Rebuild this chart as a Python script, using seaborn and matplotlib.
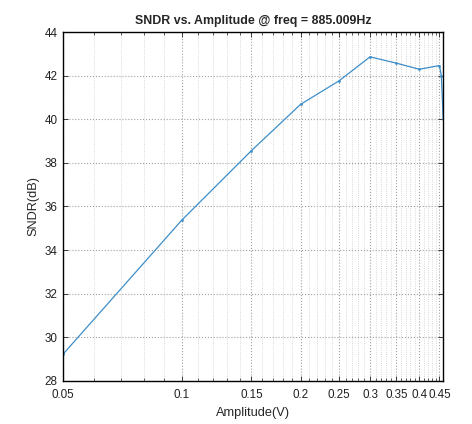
import numpy as np
import pandas as pd
import matplotlib
matplotlib.use("Agg")
import matplotlib.pyplot as plt
from matplotlib.ticker import FixedLocator, FixedFormatter, NullFormatter
import seaborn as sns

# Data
amplitude = [0.05, 0.1, 0.15, 0.2, 0.25, 0.3, 0.35, 0.4, 0.45, 0.455, 0.46]
sndr = [29.23, 35.38, 38.56, 40.69, 41.76, 42.87, 42.58, 42.30, 42.47, 42.0, 40.02]

x_ticks = [0.05, 0.1, 0.15, 0.2, 0.25, 0.3, 0.35, 0.4, 0.45]
x_tick_labels = ["0.05", "0.1", "0.15", "0.2", "0.25", "0.3", "0.35", "0.4", "0.45"]
y_ticks = [28, 30, 32, 34, 36, 38, 40, 42, 44]

df = pd.DataFrame({"Amplitude": amplitude, "SNDR": sndr})

sns.set_style("ticks")
plt.rcParams["font.family"] = ["Liberation Sans", "DejaVu Sans"]

fig = plt.figure(figsize=(4.72, 4.24), dpi=100)
ax = fig.add_axes([0.134, 0.102, 0.805, 0.822])

sns.lineplot(data=df, x="Amplitude", y="SNDR", ax=ax, color="#3d8ec9",
             linewidth=0.9, marker=".", markersize=4, markeredgewidth=0,
             sort=False)

ax.set_xscale("log")
ax.set_xlim(0.05, 0.46)
ax.set_ylim(28, 44)

minor = [m / 100 for m in range(6, 46) if m % 5 != 0]
ax.xaxis.set_major_locator(FixedLocator(x_ticks))
ax.xaxis.set_major_formatter(FixedFormatter(x_tick_labels))
ax.xaxis.set_minor_locator(FixedLocator(minor))
ax.xaxis.set_minor_formatter(NullFormatter())
ax.set_yticks(y_ticks)

ax.tick_params(which="both", direction="in", top=True, right=True,
               labelsize=8.4, colors="#222222")
ax.tick_params(axis="x", which="major", pad=6)
ax.tick_params(axis="y", which="major", pad=4)
ax.tick_params(which="major", length=3.5, width=0.6)
ax.tick_params(which="minor", length=2, width=0.5)

ax.grid(which="major", linestyle=":", color="#a0a0a0", linewidth=0.8)
ax.grid(which="minor", axis="x", linestyle=":", color="#cccccc", linewidth=0.6)

for side in ax.spines.values():
    side.set_color("black")
    side.set_linewidth(1.0)

ax.set_title("SNDR vs. Amplitude @ freq = 885.009Hz", fontsize=8.9,
             fontweight="bold", pad=6)
ax.set_xlabel("Amplitude(V)", fontsize=9.2, labelpad=4)
ax.set_ylabel("SNDR(dB)", fontsize=9.2, labelpad=4)

fig.savefig("out.png", dpi=100, facecolor="white")
